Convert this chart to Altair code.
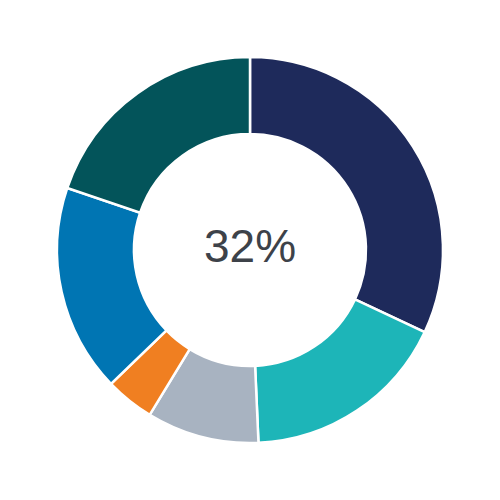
import altair as alt
import pandas as pd

categories = ["A", "B", "C", "D", "E", "F"]
values = [32, 17.3, 9.4, 4.1, 17.4, 19.8]
colors = ["#1e2a5b", "#1db5b8", "#a8b3c1", "#f07f21", "#0075b3", "#03545a"]
center_label = "32%"

df = pd.DataFrame({"cat": categories, "val": values, "idx": list(range(len(categories)))})

base = alt.Chart(df)
arc = base.mark_arc(radius=193, radius2=116, stroke="white", strokeWidth=2.5).encode(
    theta=alt.Theta("val:Q", stack=True),
    order=alt.Order("idx:Q"),
    color=alt.Color("cat:N", scale=alt.Scale(domain=categories, range=colors), legend=None),
)

txt = alt.Chart(pd.DataFrame({"t": [center_label]})).mark_text(
    fontSize=46, font="Liberation Sans", color="#3d4249", baseline="middle", align="center", dy=-2
).encode(text="t:N")

chart = alt.layer(arc, txt).properties(width=484, height=484, padding=0).configure_view(stroke=None)
chart.save("out.html", embed_options={"renderer": "svg", "actions": False})
